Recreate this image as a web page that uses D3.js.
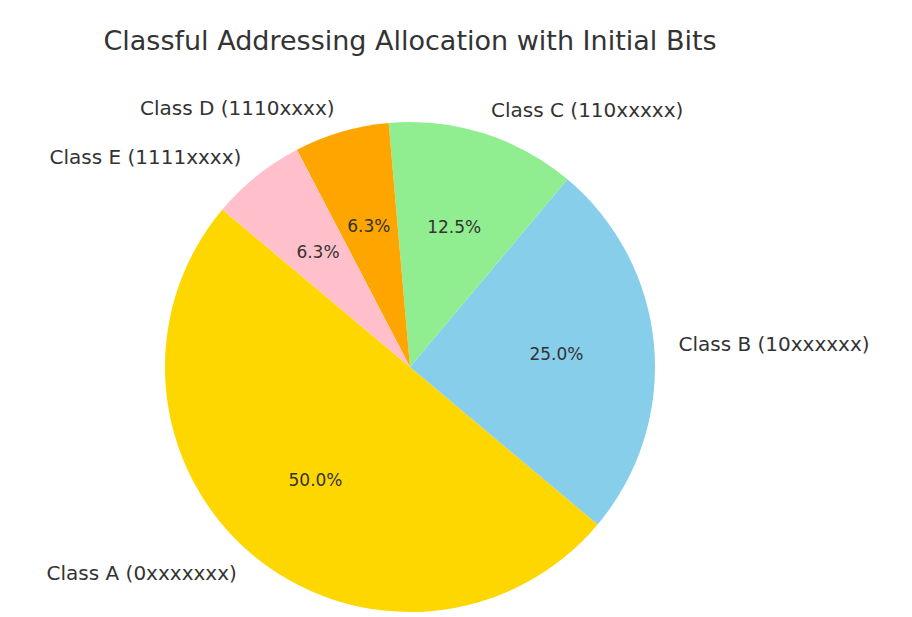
<!DOCTYPE html>
<html>
<head>
<meta charset="utf-8">
<script src="https://cdn.jsdelivr.net/npm/d3@7"></script>
<style>
body { margin: 0; background: #fff; }
text { font-family: "DejaVu Sans", sans-serif; fill: #333; }
</style>
</head>
<body>
<div id="chart"></div>
<script>
var labels = ["Class A (0xxxxxxx)", "Class B (10xxxxxx)", "Class C (110xxxxx)", "Class D (1110xxxx)", "Class E (1111xxxx)"];
var values = [50, 25, 12.5, 6.25, 6.25];
var colors = ["gold", "skyblue", "lightgreen", "orange", "pink"];

var width = 912, height = 617;
var cx = 410, cy = 367, r = 245;

var svg = d3.select("#chart").append("svg")
	.attr("width", width)
	.attr("height", height);

svg.append("text")
	.attr("x", 410)
	.attr("y", 50)
	.attr("text-anchor", "middle")
	.style("font-size", "27px")
	.text("Classful Addressing Allocation with Initial Bits");

// matplotlib startangle=140, counterclockwise
var start = (90 - 140) * Math.PI / 180;
var pie = d3.pie().sort(null).startAngle(start).endAngle(start - 2 * Math.PI);
var arcs = pie(values);
var arc = d3.arc().innerRadius(0).outerRadius(r);

var g = svg.append("g").attr("transform", "translate(" + cx + "," + cy + ")");

g.selectAll("path")
	.data(arcs)
	.enter().append("path")
	.attr("d", arc)
	.attr("fill", function(d, i) { return colors[i]; });

function pos(d, k) {
	var a = (d.startAngle + d.endAngle) / 2;
	return [Math.sin(a) * r * k, -Math.cos(a) * r * k];
}

g.selectAll(".lbl")
	.data(arcs)
	.enter().append("text")
	.attr("class", "lbl")
	.attr("x", function(d) { return pos(d, 1.1)[0]; })
	.attr("y", function(d) { return pos(d, 1.1)[1]; })
	.attr("dy", "0.35em")
	.attr("text-anchor", function(d) { return pos(d, 1.1)[0] > 0 ? "start" : "end"; })
	.style("font-size", "20px")
	.text(function(d, i) { return labels[i]; });

g.selectAll(".pct")
	.data(arcs)
	.enter().append("text")
	.attr("class", "pct")
	.attr("x", function(d) { return pos(d, 0.6)[0]; })
	.attr("y", function(d) { return pos(d, 0.6)[1]; })
	.attr("dy", "0.35em")
	.attr("text-anchor", "middle")
	.style("font-size", "17px")
	.text(function(d) { return d.value.toFixed(1) + "%"; });
</script>
</body>
</html>
